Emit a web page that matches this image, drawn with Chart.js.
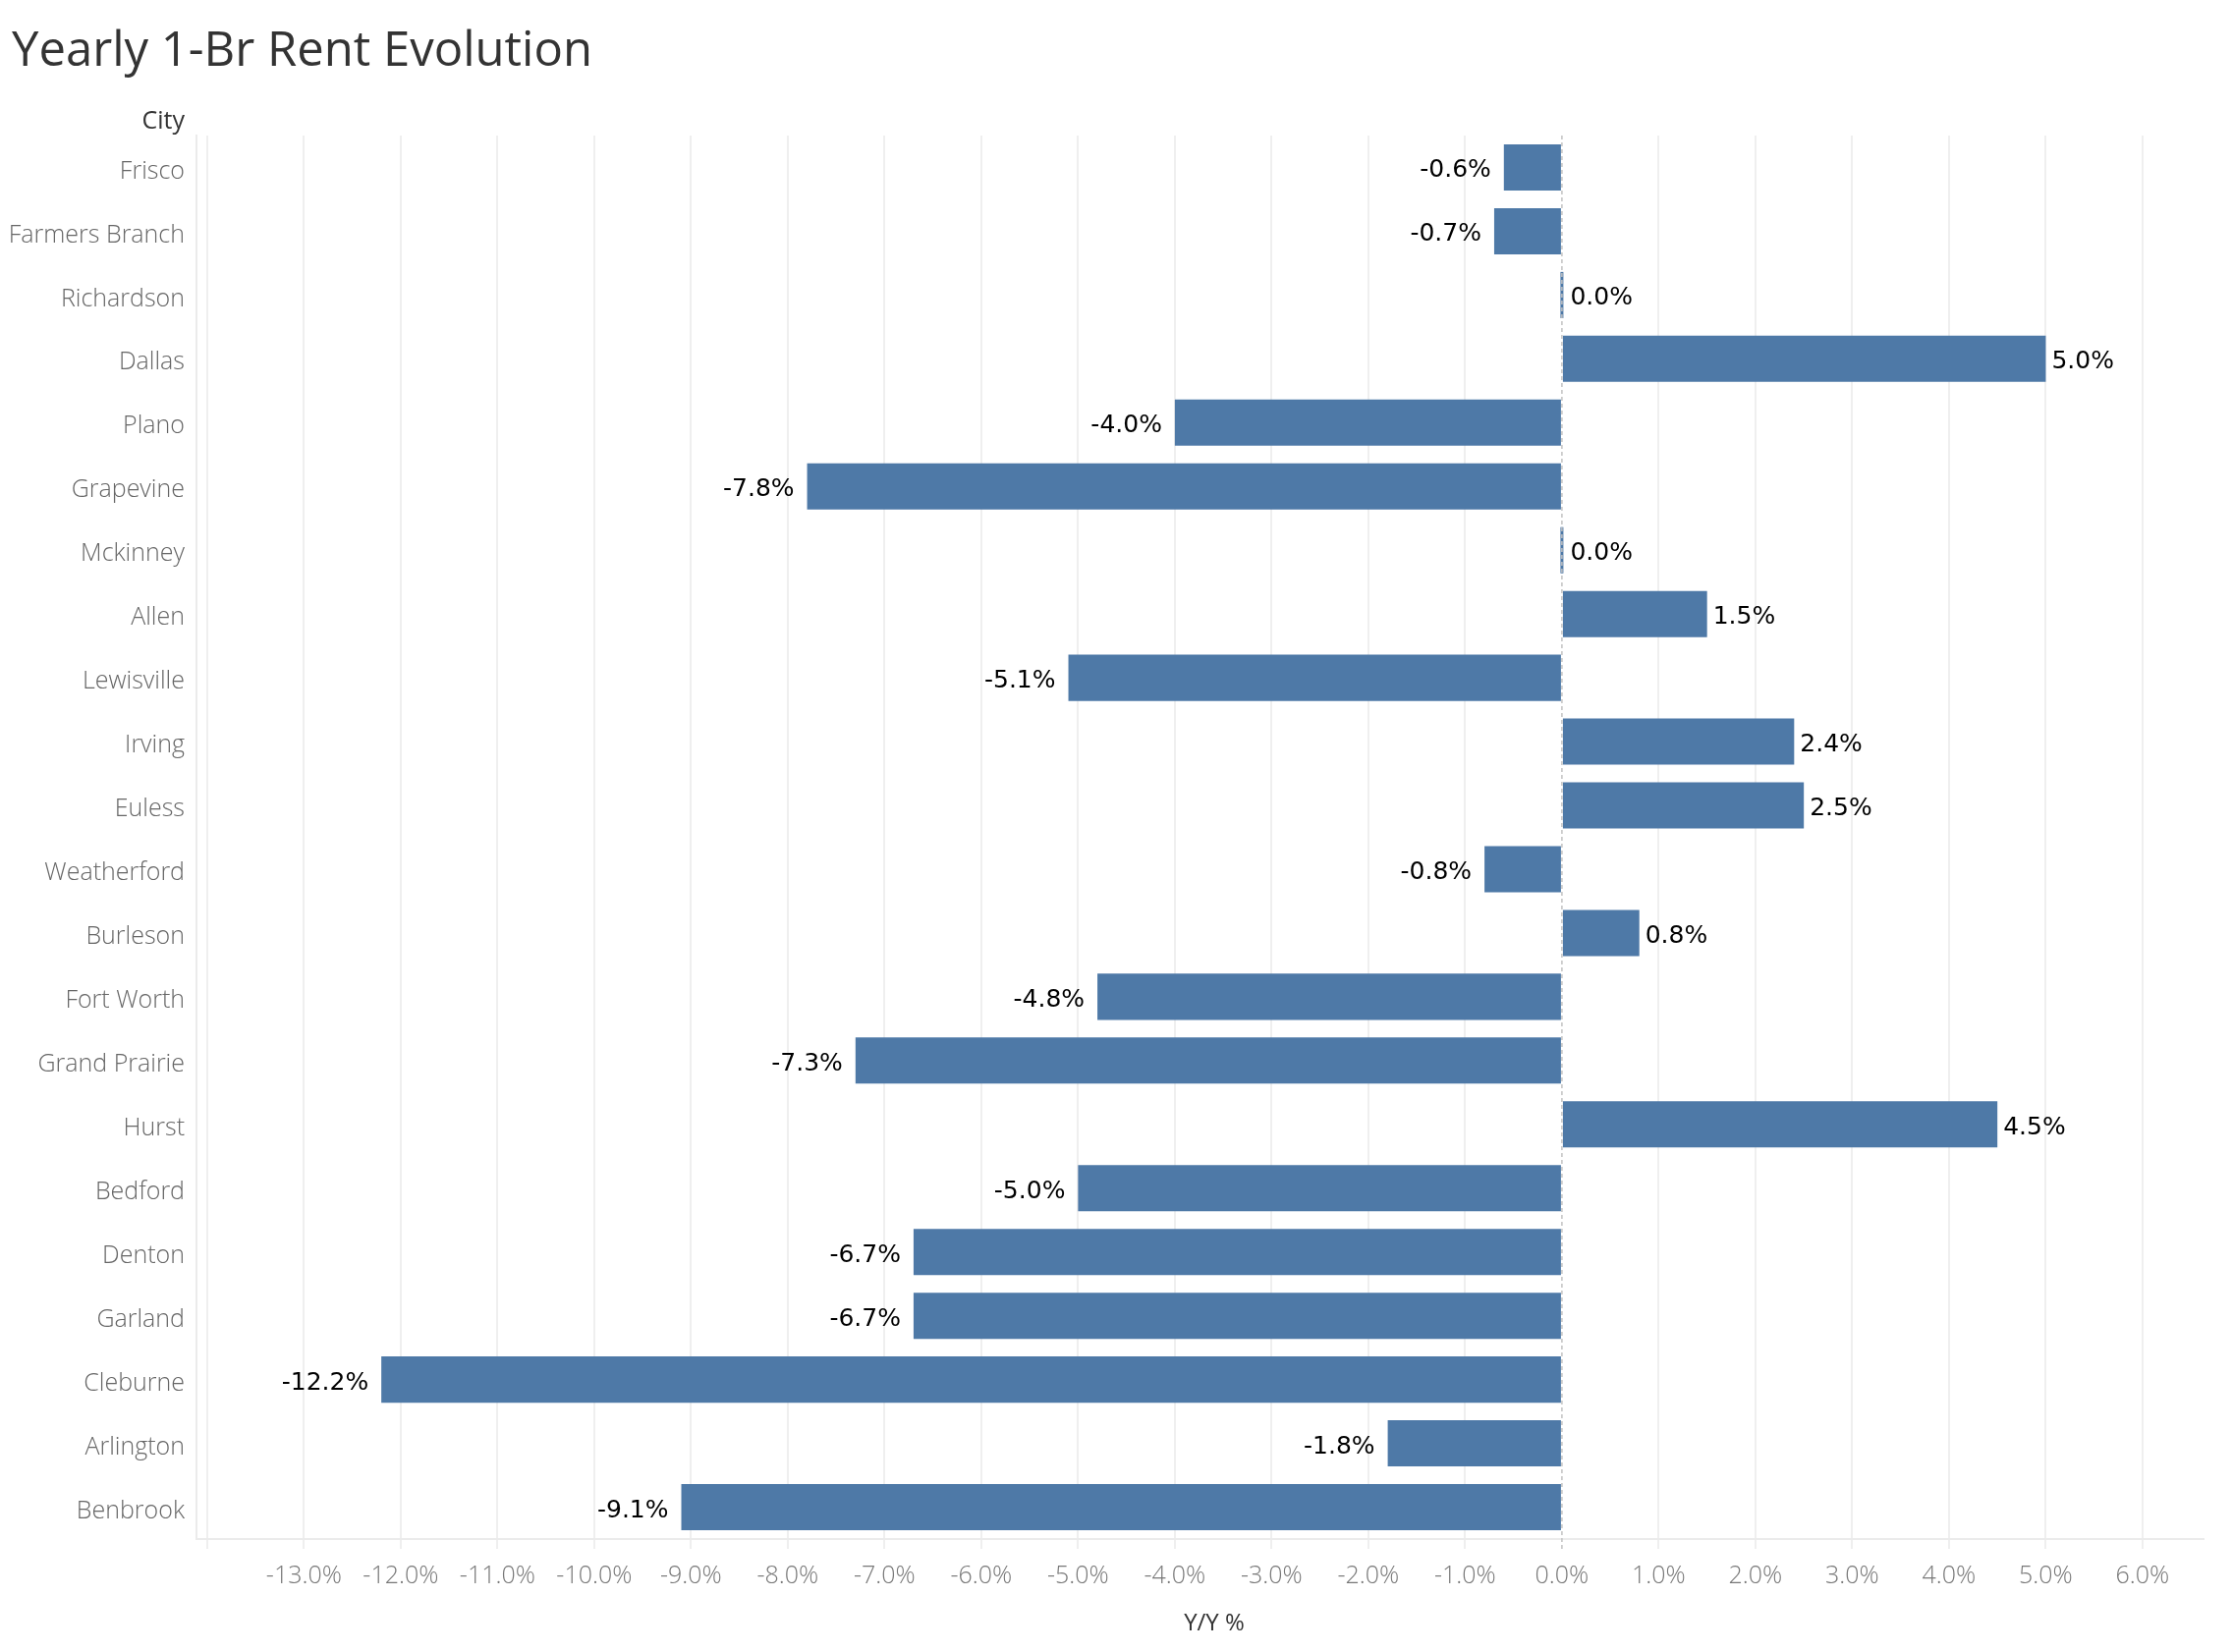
<!DOCTYPE html>
<html><head><meta charset="utf-8">
<script src="https://cdn.jsdelivr.net/npm/chart.js@4"></script>
<style>html,body{margin:0;padding:0;background:#fff;overflow:hidden}canvas{display:block}</style>
</head><body>
<canvas id="c" width="2272" height="1682"></canvas>
<script>
const chartTitle = 'Yearly 1-Br Rent Evolution';
const rowHeader = 'City';
const axisTitle = 'Y/Y %';
const cities = ['Frisco','Farmers Branch','Richardson','Dallas','Plano','Grapevine','Mckinney','Allen','Lewisville','Irving','Euless','Weatherford','Burleson','Fort Worth','Grand Prairie','Hurst','Bedford','Denton','Garland','Cleburne','Arlington','Benbrook'];
const yoyValues = [-0.6,-0.7,0.0,5.0,-4.0,-7.8,0.0,1.5,-5.1,2.4,2.5,-0.8,0.8,-4.8,-7.3,4.5,-5.0,-6.7,-6.7,-12.2,-1.8,-9.1];
const tickValues = [-14,-13,-12,-11,-10,-9,-8,-7,-6,-5,-4,-3,-2,-1,0,1,2,3,4,5,6];
const unlabeledTicks = [-14];

const FONT = "'Open Sans', 'Noto Sans', sans-serif";
const LABEL_FONT = "25px 'DejaVu Sans', Verdana, sans-serif";

const textPlugin = {
  id: 'texts',
  afterDatasetsDraw(chart) {
    const {ctx, chartArea} = chart;
    const xs = chart.scales.x;
    const x0 = xs.getPixelForValue(0);
    ctx.save();
    ctx.strokeStyle = '#c2c2c2';
    ctx.lineWidth = 1.5;
    ctx.setLineDash([4, 3]);
    ctx.beginPath();
    ctx.moveTo(x0, chartArea.top);
    ctx.lineTo(x0, chartArea.bottom + 10);
    ctx.stroke();
    ctx.restore();

    const meta = chart.getDatasetMeta(0);
    ctx.save();
    ctx.font = LABEL_FONT;
    ctx.fillStyle = '#000';
    ctx.textBaseline = 'alphabetic';
    meta.data.forEach((el, i) => {
      const v = yoyValues[i];
      const txt = v.toFixed(1) + '%';
      if (v > 0) { ctx.textAlign = 'left'; ctx.fillText(txt, el.x + 6, el.y + 10); }
      else if (v === 0) { ctx.textAlign = 'left'; ctx.fillText(txt, el.x + 10, el.y + 10); }
      else { ctx.textAlign = 'right'; ctx.fillText(txt, el.x - 13, el.y + 10); }
    });
    ctx.restore();
  },
  afterDraw(chart) {
    const {ctx, chartArea} = chart;
    ctx.save();
    ctx.fillStyle = '#333';
    ctx.textBaseline = 'alphabetic';
    ctx.textAlign = 'left';
    ctx.font = '49px ' + FONT;
    ctx.fillText(chartTitle, 12, 67);
    ctx.textAlign = 'right';
    ctx.font = '25px ' + FONT;
    ctx.fillText(rowHeader, 188, 131);
    ctx.textAlign = 'center';
    ctx.font = '24px ' + FONT;
    ctx.fillText(axisTitle, (chartArea.left + chart.width) / 2, 1660);
    ctx.restore();
  }
};

const gridCol = (c) => (c.tick && c.tick.value === 0) ? 'rgba(0,0,0,0)' : '#efefef';

new Chart(document.getElementById('c').getContext('2d'), {
  type: 'bar',
  data: {
    labels: cities,
    datasets: [{
      data: yoyValues,
      backgroundColor: '#4e79a7',
      borderWidth: 0,
      barPercentage: 0.724,
      categoryPercentage: 1,
      minBarLength: 3
    }]
  },
  options: {
    indexAxis: 'y',
    responsive: false,
    animation: false,
    devicePixelRatio: 1,
    layout: {padding: {top: 138, right: 29, bottom: 0, left: 0}},
    plugins: {legend: {display: false}, tooltip: {enabled: false}},
    scales: {
      x: {
        min: -14.11, max: 6.63,
        afterBuildTicks: (s) => { s.ticks = tickValues.map(v => ({value: v})); },
        afterFit: (s) => { s.height = 115; },
        grid: {color: gridCol, tickColor: gridCol, lineWidth: 2, tickLength: 10, drawTicks: true},
        border: {color: '#ebebeb', width: 2},
        ticks: {
          autoSkip: false, maxRotation: 0, minRotation: 0, padding: 13,
          color: '#777', font: {family: FONT, size: 25, weight: 300},
          callback: (v) => unlabeledTicks.includes(v) ? '' : Number(v).toFixed(1) + '%'
        }
      },
      y: {
        afterFit: (s) => { s.width = 200; },
        grid: {display: false, drawTicks: false},
        border: {color: '#ebebeb', width: 2},
        ticks: {autoSkip: false, padding: 12, labelOffset: 4, color: '#666', font: {family: FONT, size: 25, weight: 300}}
      }
    }
  },
  plugins: [textPlugin]
});
</script>
</body></html>
